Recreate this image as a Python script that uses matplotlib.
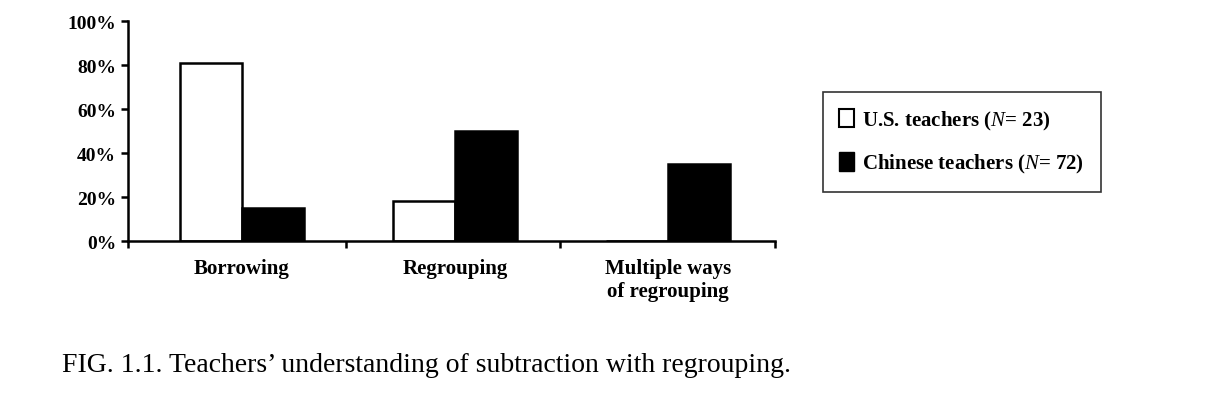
import matplotlib
matplotlib.use('Agg')
import matplotlib.pyplot as plt
from matplotlib.patches import Patch

categories = ["Borrowing", "Regrouping", "Multiple ways\nof regrouping"]
us_values = [81, 18, 0]
chinese_values = [15, 50, 35]

plt.rcParams['font.family'] = ['Liberation Serif', 'DejaVu Serif']
plt.rcParams['mathtext.fontset'] = 'custom'
plt.rcParams['mathtext.it'] = 'Liberation Serif:italic'
plt.rcParams['mathtext.rm'] = 'Liberation Serif'

fig = plt.figure(figsize=(12.07, 4.02), dpi=100)
ax = fig.add_axes([0.106, 0.398, 0.536, 0.547])

w = 0.29
x = range(len(categories))
ax.bar([i - w / 2 for i in x], us_values, w, color='white', edgecolor='black', linewidth=1.8)
ax.bar([i + w / 2 for i in x], chinese_values, w, color='black', edgecolor='black', linewidth=1.8)

ax.set_xlim(-0.535, 2.5)
ax.set_ylim(0, 100)
ax.set_yticks(range(0, 101, 20))
ax.set_yticklabels([f"{v}%" for v in range(0, 101, 20)], fontsize=14, fontweight='semibold')
ax.set_xticks([-0.535, 0.49, 1.49, 2.5])
ax.set_xticklabels([])
ax.set_xticks(list(x), minor=True)
ax.set_xticklabels(categories, minor=True, fontsize=15, fontweight='semibold')
ax.tick_params(axis='x', which='minor', length=0, pad=12)
ax.tick_params(axis='both', which='major', direction='out', width=1.8, length=5)
for s in ['top', 'right']:
    ax.spines[s].set_visible(False)
for s in ['left', 'bottom']:
    ax.spines[s].set_linewidth(1.8)

handles = [Patch(facecolor='white', edgecolor='black', linewidth=1.5, label='U.S. teachers ($N$= 23)'),
           Patch(facecolor='black', edgecolor='black', label='Chinese teachers ($N$= 72)')]
leg = fig.legend(handles=handles, loc='upper left', bbox_to_anchor=(0.673, 0.795),
                 fontsize=15, frameon=True, fancybox=False, edgecolor='black',
                 handlelength=0.7, handleheight=1.0, borderpad=0.8, labelspacing=1.0,
                 handletextpad=0.4, prop={'weight': 'semibold', 'size': 15})
leg.get_frame().set_linewidth(1.2)

fig.text(0.051, 0.075, "FIG. 1.1. Teachers\u2019 understanding of subtraction with regrouping.",
         fontsize=20)

fig.savefig('out.png')
